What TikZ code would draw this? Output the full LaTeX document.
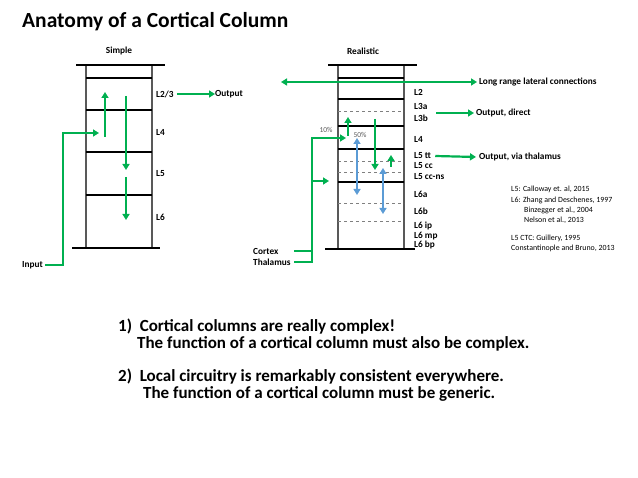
\documentclass[tikz,border=0pt]{standalone}
\usepackage{fontspec}
\setmainfont{Carlito}
\usetikzlibrary{arrows.meta}
\definecolor{gr}{RGB}{0,176,80}
\definecolor{bl}{RGB}{91,155,213}
\begin{document}
\begin{tikzpicture}[x=1pt,y=-1pt,
 hl/.style={line width=1.3pt},
 dl/.style={line width=0.8pt,gray,dashed},
 vl/.style={line width=1.3pt,gray!70!black},
 ga/.style={line width=2.2pt,gr,-{Triangle[length=6pt,width=7pt]}},
 gl/.style={line width=2.2pt,gr},
 ba/.style={line width=2.2pt,bl,{Triangle[length=6pt,width=7pt]}-{Triangle[length=6pt,width=7pt]}},
 lb/.style={anchor=west,font=\bfseries\fontsize{9.3}{10}\selectfont,inner sep=0},
 rf/.style={anchor=west,font=\fontsize{7.9}{8}\selectfont,inner sep=0},
 bt/.style={anchor=west,font=\bfseries\fontsize{17}{19}\selectfont,inner sep=0}]
\useasboundingbox (0,0) rectangle (638,478);
\node[anchor=west,inner sep=0,font=\bfseries\fontsize{21.5}{24}\selectfont] (title) at (22,22) {Anatomy of a Cortical Column};
% Simple
\node[lb,anchor=center] (hs) at (119,51) {Simple};
\draw[vl] (86,65) -- (86,248) (152,65) -- (152,248);
\draw[hl] (76,65) -- (165,65) (72,248) -- (160,248);
\draw[hl] (86,78)--(152,78) (86,110)--(152,110) (86,152)--(152,152) (86,195)--(152,195);
\node[lb] (s23) at (156,94) {L2/3};
\node[lb] (s4) at (156,132) {L4};
\node[lb] (s5) at (156,174) {L5};
\node[lb] (s6) at (156,217) {L6};
\node[lb] (sout) at (215,94) {Output};
\draw[ga] (s23.east)++(3,0) -- (sout.west);
\coordinate (a1) at (105,137); \coordinate (a2) at (105,92);
\draw[ga] (a1) -- (a2);
\coordinate (b1) at (126,96); \coordinate (b2) at (126,170);
\draw[ga] (b1) -- (b2);
\coordinate (c1) at (126,177); \coordinate (c2) at (126,220);
\draw[ga] (c1) -- (c2);
\node[lb] (inp) at (22,265) {Input};
\coordinate (i1) at (63,133); \coordinate (i2) at (99,133);
\draw[gl] (inp.east)++(2,0) -- (63,265) -- (i1);
\draw[ga] (62,133) -- (i2);
% Realistic
\node[lb,anchor=center] (hr) at (363,51) {Realistic};
\draw[vl] (338,65) -- (338,249) (404,65) -- (404,249);
\draw[hl] (328,65) -- (417,65) (325,249) -- (415,249);
\foreach \y in {78,99,126,149,182} \draw[hl] (338,\y)--(404,\y);
\foreach \y in {111,161,172,203,221} \draw[dl] (338,\y)--(404,\y);
\node[lb] (r2) at (414,92) {L2};
\node[lb] (r3a) at (414,106) {L3a};
\node[lb] (r3b) at (414,118) {L3b};
\node[lb] (r4) at (414,139) {L4};
\node[lb] (r5tt) at (414,156) {L5 tt};
\node[lb] (r5cc) at (414,166) {L5 cc};
\node[lb] (r5ns) at (414,177) {L5 cc-ns};
\node[lb] (r6a) at (414,194) {L6a};
\node[lb] (r6b) at (414,211) {L6b};
\node[lb] (r6ip) at (414,226) {L6 ip};
\node[lb] (r6mp) at (414,236) {L6 mp};
\node[lb] (r6bp) at (414,245) {L6 bp};
\node[lb] (lr) at (479,82) {Long range lateral connections};
\node[lb] (od) at (476,113) {Output, direct};
\node[lb] (ot) at (479,157) {Output, via thalamus};
\coordinate (lrl) at (281,82);
\draw[line width=2.2pt,gr,{Triangle[length=6pt,width=7pt]}-{Triangle[length=6pt,width=7pt]}] (lrl) -- ([xshift=-2pt]lr.west);
\draw[ga] (436,113) -- ([xshift=-2pt]od.west);
\draw[ga] (r5tt.east)++(4,0) -- ([xshift=-3pt]ot.west);
\coordinate (g1) at (348,136); \coordinate (g2) at (348,117); \draw[ga] (g1) -- (g2);
\coordinate (g3) at (375,119); \coordinate (g4) at (375,170); \draw[ga] (g3) -- (g4);
\coordinate (g5) at (391,167); \coordinate (g6) at (391,155); \draw[ga] (g5) -- (g6);
\coordinate (u1) at (357,138); \coordinate (u2) at (357,195); \draw[ba] (u1) -- (u2);
\coordinate (v1) at (383,168); \coordinate (v2) at (383,214); \draw[ba] (v1) -- (v2);
\node[font=\fontsize{7.5}{8}\selectfont,text=gray!70!black] (p10) at (326,130) {10\%};
\node[font=\fontsize{7.5}{8}\selectfont,text=gray!70!black] (p50) at (360,135) {50\%};
\node[lb] (cx) at (253,251) {Cortex};
\node[lb] (th) at (253,262) {Thalamus};
\coordinate (t1) at (346,138); \coordinate (t2) at (329,181);
\draw[gl] (294,251) -- (312,251) (294,262) -- (312,262) -- (312,138);
\draw[ga] (311,138) -- (t1);
\draw[ga] (312,181) -- (t2);
% refs
\node[rf] (f1) at (511,189) {L5: Calloway et. al, 2015};
\node[rf] (f2) at (511,200) {L6: Zhang and Deschenes, 1997};
\node[rf] (f3) at (524,210) {Binzegger et al., 2004};
\node[rf] (f4) at (524,220) {Nelson et al., 2013};
\node[rf] (f5) at (511,238) {L5 CTC: Guillery, 1995};
\node[rf] (f6) at (511,248) {Constantinople and Bruno, 2013};
% bottom
\node[bt] (t1a) at (118,327) {1)\ \ Cortical columns are really complex!};
\node[bt] (t1b) at (137,344) {The function of a cortical column must also be complex.};
\node[bt] (t2a) at (118,377) {2)\ \ Local circuitry is remarkably consistent everywhere.};
\node[bt] (t2b) at (143,394) {The function of a cortical column must be generic.};
\end{tikzpicture}
\end{document}
